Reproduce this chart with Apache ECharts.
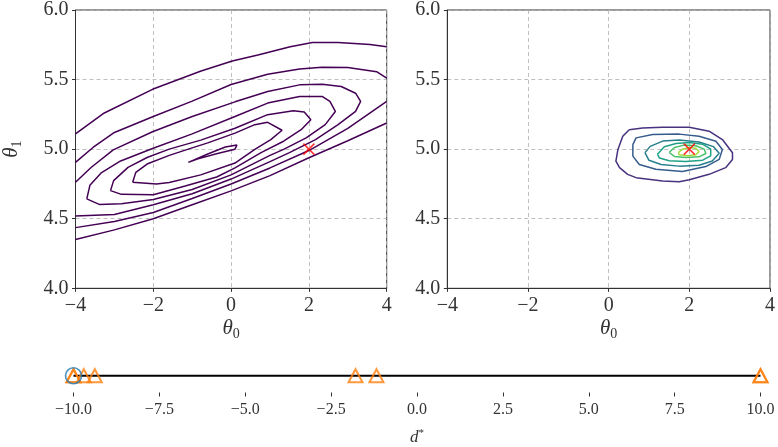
<!DOCTYPE html>
<html>
<head>
<meta charset="utf-8">
<script src="https://cdn.jsdelivr.net/npm/echarts@6/dist/echarts.min.js"></script>
<style>html,body{margin:0;padding:0;background:#fff}#c{width:778px;height:447px}</style>
</head>
<body>
<div id="c"></div>
<script>
// ---------- data ----------
// tick settings
var thetaXTicks = [-4, -2, 0, 2, 4];
var thetaYTicks = [4.0, 4.5, 5.0, 5.5, 6.0];
var dTicks = [-10, -7.5, -5, -2.5, 0, 2.5, 5, 7.5, 10];
var trueTheta = [[2, 5]];

// left panel contours (theta0, theta1)
var lA_up = [[-4,5.11],[-3.26,5.26],[-2.02,5.43],[-0.79,5.56],[0.03,5.633],[0.69,5.676],[1.52,5.736],[2.09,5.767],[2.75,5.767],[3.57,5.752],[4,5.736]];
var lA_lo = [[-4,4.35],[-3,4.42],[-2,4.50],[-1,4.60],[0,4.70],[1,4.81],[2,4.938],[3,5.06],[4,5.188]];
var lB_up = [[-4,4.905],[-3.55,5.012],[-3.0,5.12],[-2,5.235],[-1,5.345],[0,5.465],[0.94,5.538],[1.76,5.576],[2.34,5.588],[3.0,5.586],[3.74,5.557],[4,5.51]];
var lB_lo = [[-4,4.436],[-3,4.48],[-2,4.545],[-1,4.645],[0,4.75],[1,4.865],[2,4.99],[3,5.15],[4,5.343]];
var lC = [[-4,4.762],[-3.6,4.868],[-3.03,4.995],[-2.02,5.125],[-1,5.235],[0.1,5.34],[0.94,5.414],[1.76,5.462],[2.34,5.467],[2.83,5.45],[3.2,5.402],[3.33,5.343],[3.2,5.271],[2.75,5.176],[2.17,5.069],[1.5,4.975],[1,4.91],[0,4.785],[-1,4.68],[-2,4.60],[-3,4.53],[-4,4.52]];
var lD = [[-3.71,4.643],[-3.63,4.74],[-3.33,4.832],[-2.84,4.915],[-2.02,5.005],[-1,5.11],[0.1,5.235],[0.94,5.331],[1.76,5.379],[2.34,5.379],[2.54,5.343],[2.68,5.271],[2.42,5.176],[1.93,5.081],[1.35,4.998],[1,4.955],[0,4.815],[-1,4.71],[-2,4.638],[-2.82,4.607],[-3.39,4.603],[-3.71,4.643]];
var lE = [[-3.10,4.702],[-3.02,4.774],[-2.65,4.869],[-2.16,4.94],[-1.59,5.0],[-0.78,5.065],[0.1,5.15],[0.94,5.248],[1.6,5.276],[1.88,5.267],[2.05,5.212],[1.80,5.14],[1.35,5.057],[0.77,4.975],[0.1,4.865],[-0.37,4.8],[-1.18,4.735],[-2,4.672],[-2.82,4.675],[-3.10,4.702]];
var lF = [[-2.53,4.762],[-2.45,4.833],[-2.16,4.893],[-1.59,4.955],[-1.1,5.0],[-0.6,5.045],[0.1,5.115],[0.61,5.176],[0.94,5.193],[1.31,5.136],[1.02,5.069],[0.61,4.998],[0.1,4.9],[-0.78,4.815],[-1.59,4.76],[-1.92,4.75],[-2.53,4.762]];
var lG = [[-1.1,4.905],[-0.6,4.965],[-0.15,5.015],[0.15,5.03],[0.1,5.0],[-0.4,4.965],[-0.85,4.93],[-1.1,4.905]];

// right panel contours
var r1 = [[0.51,5.14],[0.84,5.152],[1.34,5.157],[2.0,5.157],[2.49,5.129],[2.82,5.069],[3.07,4.974],[3.07,4.926],[2.90,4.867],[2.49,4.819],[2.0,4.78],[1.75,4.765],[1.34,4.771],[0.68,4.795],[0.47,4.819],[0.27,4.867],[0.18,4.914],[0.23,4.998],[0.35,5.093],[0.51,5.14]];
var r2 = [[0.60,5.033],[0.68,5.081],[1.09,5.105],[1.75,5.108],[2.24,5.093],[2.66,5.057],[2.82,4.998],[2.74,4.926],[2.41,4.875],[1.83,4.84],[1.17,4.855],[0.76,4.89],[0.60,4.95],[0.60,5.033]];
var r3 = [[0.9,4.975],[1.03,5.02],[1.34,5.058],[1.75,5.066],[2.24,5.052],[2.6,5.018],[2.74,4.97],[2.57,4.915],[2.24,4.884],[1.75,4.878],[1.3,4.89],[1.0,4.92],[0.9,4.975]];
var r4 = [[1.21,4.964],[1.38,5.017],[1.67,5.04],[2.0,5.048],[2.33,5.036],[2.53,5.0],[2.53,4.952],[2.33,4.921],[1.91,4.912],[1.5,4.917],[1.26,4.936],[1.21,4.964]];
var r5 = [[1.50,4.976],[1.63,5.012],[1.87,5.029],[2.16,5.024],[2.37,5.0],[2.41,4.969],[2.24,4.945],[1.91,4.94],[1.63,4.948],[1.50,4.976]];
var r6 = [[1.73,4.976],[1.83,5.0],[2.0,5.012],[2.16,5.007],[2.24,4.983],[2.16,4.96],[1.96,4.952],[1.75,4.96],[1.73,4.976]];

// bottom strip
var dLine = [-10, 10];
var dCircles = [-10];
var dTriangles = [-10, -10, -9.7, -9.38, -1.79, -1.18, 10, 10];

// ---------- styling ----------
var FONT = "'Liberation Serif', 'DejaVu Serif', serif";
var TXT = '#333';
var leftColor = '#440154';
var rightColors = ['#46327e', '#365c8d', '#277f8e', '#1fa187', '#4ac16d', '#a0da39'];

function fmtMinus(v, d) {
  var s = d != null ? Math.abs(v).toFixed(d) : String(Math.abs(v));
  return (v < 0 ? '\u2212' : '') + s;
}
function nameRich() {
  return {
    t: {fontFamily: FONT, fontStyle: 'italic', fontSize: 21, color: TXT, lineHeight: 26},
    s: {fontFamily: FONT, fontSize: 14, color: TXT, lineHeight: 14, verticalAlign: 'bottom'}
  };
}

var grids = [
  {left: 63.3, top: 8, width: 323.4, height: 280.3, show: true, borderColor: '#333', borderWidth: 1},
  {left: 447.3, top: 8, width: 323.7, height: 280.3, show: true, borderColor: '#333', borderWidth: 1},
  {left: 73.5, top: 359, width: 687, height: 46, show: false}
];

function topX(gi) {
  return {
    gridIndex: gi, type: 'value', min: -4, max: 4, interval: 2,
    axisLine: {show: true, onZero: false, lineStyle: {color: '#333', width: 1}},
    axisTick: {show: true, length: 3.5, lineStyle: {color: '#333'}},
    axisLabel: {fontFamily: FONT, fontSize: 20, color: TXT, margin: 7, formatter: function (v) { return fmtMinus(v); }},
    splitLine: {show: true, lineStyle: {color: '#b0b0b0', type: [4, 3], width: 0.8}},
    name: '{t|\u03b8}{s|0}', nameLocation: 'middle', nameGap: 27, nameMoveOverlap: false,
    nameTextStyle: {rich: nameRich()}
  };
}
function topY(gi, showName) {
  var o = {
    gridIndex: gi, type: 'value', min: 4, max: 6, interval: 0.5,
    axisLine: {show: true, onZero: false, lineStyle: {color: '#333', width: 1}},
    axisTick: {show: true, length: 3.5, lineStyle: {color: '#333'}},
    axisLabel: {fontFamily: FONT, fontSize: 20, color: TXT, margin: 7, formatter: function (v) { return v.toFixed(1); }},
    splitLine: {show: true, lineStyle: {color: '#b0b0b0', type: [4, 3], width: 0.8}}
  };
  if (showName) {
    o.name = '{t|\u03b8}{s|1}';
    o.nameLocation = 'middle';
    o.nameGap = 51;
    o.nameMoveOverlap = false;
    o.nameTextStyle = {rich: nameRich()};
  }
  return o;
}

var xAxes = [topX(0), topX(1), {
  gridIndex: 2, type: 'value', min: -10, max: 10, interval: 2.5,
  axisLine: {show: false, onZero: false},
  axisTick: {show: true, length: 4, lineStyle: {color: '#333'}},
  axisLabel: {fontFamily: FONT, fontSize: 16, color: TXT, margin: 9, formatter: function (v) { return fmtMinus(v, 1); }},
  splitLine: {show: false},
  name: '{t|d}{s|*}', nameLocation: 'middle', nameGap: 35, nameMoveOverlap: false,
  nameTextStyle: {rich: {
    t: {fontFamily: FONT, fontStyle: 'italic', fontSize: 17, color: TXT, lineHeight: 20},
    s: {fontFamily: FONT, fontSize: 11, color: TXT, lineHeight: 11, verticalAlign: 'top'}
  }}
}];
var yAxes = [topY(0, true), topY(1, false), {
  gridIndex: 2, type: 'value', min: -1, max: 1, show: false
}];

var series = [];
function contour(data, gi, color) {
  series.push({
    type: 'line', xAxisIndex: gi, yAxisIndex: gi, data: data, showSymbol: false, symbol: 'none',
    silent: true, lineStyle: {color: color, width: 1.5}, z: 2
  });
}
[lA_up, lA_lo, lB_up, lB_lo, lC, lD, lE, lF, lG].forEach(function (c) { contour(c, 0, leftColor); });
[r1, r2, r3, r4, r5, r6].forEach(function (c, i) { contour(c, 1, rightColors[i]); });

[0, 1].forEach(function (gi) {
  series.push({
    type: 'scatter', xAxisIndex: gi, yAxisIndex: gi, data: trueTheta, silent: true, z: 5,
    symbol: 'path://M0,0L10,10M10,0L0,10', symbolSize: 11,
    itemStyle: {color: 'none', borderColor: '#ff0000', borderWidth: 1.5}
  });
});

// bottom strip
series.push({
  type: 'line', xAxisIndex: 2, yAxisIndex: 2, data: dLine.map(function (d) { return [d, 0]; }),
  showSymbol: false, symbol: 'none', silent: true, clip: false, lineStyle: {color: '#000', width: 2}, z: 2
});
series.push({
  type: 'scatter', xAxisIndex: 2, yAxisIndex: 2, data: dTriangles.map(function (d) { return [d, 0]; }),
  symbol: 'triangle', symbolSize: [14, 13], silent: true, clip: false, z: 3,
  itemStyle: {color: 'none', borderColor: '#ff7f0e', borderWidth: 2}
});
series.push({
  type: 'scatter', xAxisIndex: 2, yAxisIndex: 2, data: dCircles.map(function (d) { return [d, 0]; }),
  symbol: 'circle', symbolSize: 16, silent: true, clip: false, z: 4,
  itemStyle: {color: 'none', borderColor: '#1f77b4', borderWidth: 1.6}
});

var chart = echarts.init(document.getElementById('c'), null, {renderer: 'canvas'});
chart.setOption({
  animation: false,
  backgroundColor: '#fff',
  grid: grids,
  xAxis: xAxes,
  yAxis: yAxes,
  series: series
});
</script>
</body>
</html>
